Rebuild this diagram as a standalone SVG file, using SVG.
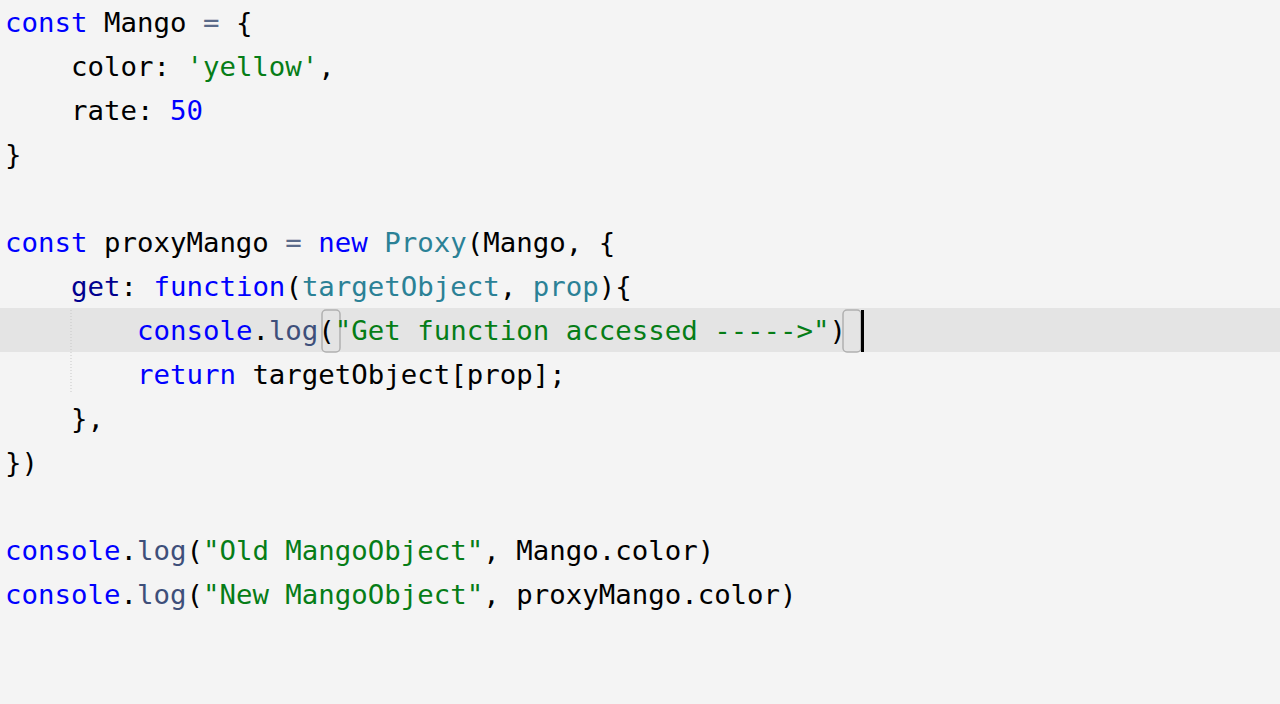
<svg xmlns="http://www.w3.org/2000/svg" width="1280" height="704" viewBox="0 0 1280 704">
<style>
text{font-family:"DejaVu Sans Mono","Liberation Mono",monospace;font-size:27.4px;fill:#000;white-space:pre}
.k{fill:#0000ff}.s{fill:#067d17}.t{fill:#2b8196}.g{fill:#00008f}.l{fill:#3e4f7a}.o{fill:#5a6a8a}.n{fill:#0000ff}
</style>
<rect width="1280" height="704" fill="#f4f4f4"/>
<rect x="0" y="308" width="1280" height="44" fill="#e4e4e4"/>
<line x1="71" y1="310" x2="71" y2="392" stroke="#c8c8c8" stroke-dasharray="1 2"/>
<rect x="322" y="310" width="18" height="42" rx="4" fill="none" stroke="#b0b0b0" stroke-width="1.5"/>
<rect x="843" y="310" width="18" height="42" rx="4" fill="none" stroke="#b0b0b0" stroke-width="1.5"/>
<rect x="861" y="310" width="3" height="42" fill="#000"/>
<g id="code">
<text x="5" y="32" xml:space="preserve"><tspan class="k">const</tspan> Mango <tspan class="o">=</tspan> {</text>
<text x="5" y="76" xml:space="preserve">    color: <tspan class="s">'yellow'</tspan>,</text>
<text x="5" y="120" xml:space="preserve">    rate: <tspan class="n">50</tspan></text>
<text x="5" y="164" xml:space="preserve">}</text>
<text x="5" y="252" xml:space="preserve"><tspan class="k">const</tspan> proxyMango <tspan class="o">=</tspan> <tspan class="k">new</tspan> <tspan class="t">Proxy</tspan>(Mango, {</text>
<text x="5" y="296" xml:space="preserve">    <tspan class="g">get</tspan>: <tspan class="k">function</tspan>(<tspan class="t">targetObject</tspan>, <tspan class="t">prop</tspan>){</text>
<text x="5" y="340" xml:space="preserve">        <tspan class="k">console</tspan>.<tspan class="l">log</tspan>(<tspan class="s">"Get function accessed -----&gt;"</tspan>)</text>
<text x="5" y="384" xml:space="preserve">        <tspan class="k">return</tspan> targetObject[prop];</text>
<text x="5" y="428" xml:space="preserve">    },</text>
<text x="5" y="472" xml:space="preserve">})</text>
<text x="5" y="560" xml:space="preserve"><tspan class="k">console</tspan>.<tspan class="l">log</tspan>(<tspan class="s">"Old MangoObject"</tspan>, Mango.color)</text>
<text x="5" y="604" xml:space="preserve"><tspan class="k">console</tspan>.<tspan class="l">log</tspan>(<tspan class="s">"New MangoObject"</tspan>, proxyMango.color)</text>
</g>
</svg>
